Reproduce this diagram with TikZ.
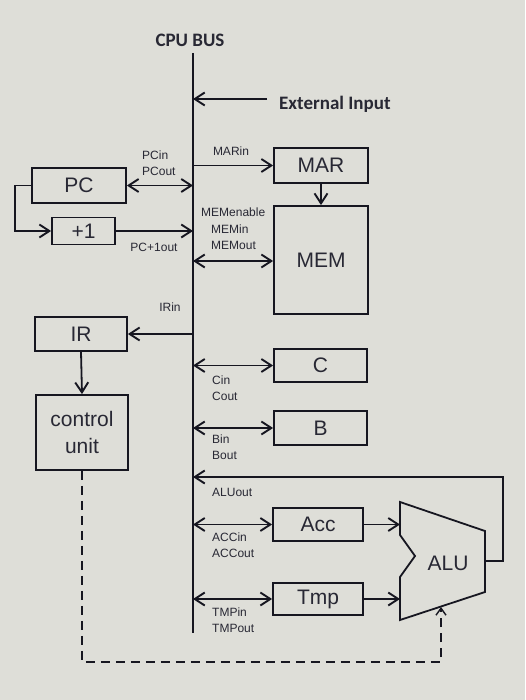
\documentclass[tikz,border=0pt]{standalone}
\usepackage{fontspec}
\setmainfont{Liberation Sans}
\newfontfamily\calib{Carlito}
\usetikzlibrary{arrows.meta}
\definecolor{bg}{RGB}{222,222,216}
\definecolor{ink}{RGB}{22,22,32}
\definecolor{txt}{RGB}{40,40,52}
\tikzset{
  tip/.tip={Straight Barb[length=10pt,width=13pt,line width=1.9pt]},
  box/.style={draw=ink,line width=1.8pt,fill=bg,inner sep=0pt,font=\fontsize{21}{23}\selectfont,text=txt},
  arr/.style={draw=ink,line width=1.8pt,-tip},
  darr/.style={draw=ink,line width=1.8pt,tip-tip},
  lbl/.style={font=\fontsize{12}{16}\selectfont,text=txt,inner sep=0pt,align=left},
  big/.style={font=\calib\bfseries\fontsize{19}{21}\selectfont,text=txt,inner sep=0pt}
}
\begin{document}
\begin{tikzpicture}[x=1pt,y=-1pt]
\fill[bg] (0,0) rectangle (525,700);
\useasboundingbox (0,0) rectangle (525,700);
% bus
\coordinate (bustop) at (193,53);
\coordinate (busbot) at (193,633);
\draw[ink,line width=2.6pt] (bustop) -- (busbot);
\node[big] (cpubus) at (190,40) {CPU BUS};
\coordinate (ext) at (267,99);
\draw[arr] (ext) -- (bustop |- ext);
\node[big,anchor=west] (extlbl) at (279,104) {External Input};
% boxes
\node[box,minimum width=94,minimum height=35] (MAR) at (321,165.5) {MAR};
\node[box,minimum width=94,minimum height=108] (MEM) at (321,260) {MEM};
\node[box,minimum width=94,minimum height=35] (PC) at (79,185.5) {PC};
\node[box,minimum width=63,minimum height=27] (inc) at (83.5,231) {+1};
\node[box,minimum width=92,minimum height=34] (IR) at (81,334) {IR};
\node[box,minimum width=92,minimum height=75,align=center,font=\fontsize{21}{27}\selectfont] (cu) at (82,432.5) {control\\unit};
\node[box,minimum width=93,minimum height=33] (C) at (320.5,365.5) {C};
\node[box,minimum width=93,minimum height=34] (B) at (320.5,428) {B};
\node[box,minimum width=90,minimum height=33] (Acc) at (318,524.5) {Acc};
\node[box,minimum width=90,minimum height=32] (Tmp) at (318,599) {Tmp};
% ALU
\coordinate (a1) at (400,502);
\coordinate (a2) at (485,531);
\coordinate (a3) at (485,592);
\coordinate (a4) at (400,620);
\coordinate (a5) at (400,577);
\coordinate (a6) at (415,556);
\coordinate (a7) at (400,535);
\draw[ink,line width=1.8pt,line join=miter] (a1) -- (a2) -- (a3) -- (a4) -- (a5) -- (a6) -- (a7) -- cycle;
\node[font=\fontsize{21}{23}\selectfont,text=txt] (alu) at (448,563) {ALU};
\coordinate (alur) at (485,561);
\coordinate (aluo) at (503,477);
\coordinate (alub) at (441,607);
% connections
\draw[arr] (bustop |- MAR) -- (MAR.west);
\node[lbl] (marin) at (231,151) {MARin};
\draw[arr] (MAR.south) -- (MEM.north);
\draw[darr] (PC.east) -- (bustop |- PC);
\node[lbl,anchor=west] (pcl) at (142,163.5) {PCin\\PCout};
\draw[arr] (PC.west) -- ++(-16,0) |- (inc.west);
\draw[arr] (inc.east) -- (bustop |- inc);
\node[lbl] (pc1) at (154,247) {PC+1out};
\coordinate (memy) at (193,261);
\draw[darr] (memy) -- (memy -| MEM.west);
\node[lbl,anchor=west] (meme) at (201,212) {MEMenable};
\node[lbl,anchor=west] (memio) at (211,237) {MEMin\\MEMout};
\draw[arr] (bustop |- IR) -- (IR.east);
\node[lbl] (irin) at (170,307) {IRin};
\draw[arr] (IR.south) -- (cu.north);
\draw[darr] (bustop |- C) -- (C.west);
\node[lbl,anchor=west] (cl) at (212,388) {Cin\\Cout};
\draw[darr] (bustop |- B) -- (B.west);
\node[lbl,anchor=west] (bl) at (212,447) {Bin\\Bout};
\draw[arr] (alur) -- (aluo |- alur) -- (aluo) -- (bustop |- aluo);
\node[lbl,anchor=west] (aluol) at (212,492) {ALUout};
\draw[darr] (bustop |- Acc) -- (Acc.west);
\node[lbl,anchor=west] (accl) at (212,545.5) {ACCin\\ACCout};
\draw[darr] (bustop |- Tmp) -- (Tmp.west);
\node[lbl,anchor=west] (tmpl) at (212,620) {TMPin\\TMPout};
\draw[arr] (Acc.east) -- (Acc.east -| a1);
\draw[arr] (Tmp.east) -- (Tmp.east -| a1);
\coordinate (dc) at (82,662);
\draw[draw=ink,line width=1.4pt,dash pattern=on 9pt off 6pt,-{Straight Barb[length=7pt,width=10pt,line width=1.4pt]}] (cu.south) -- (cu.south |- dc) -| (alub);
\end{tikzpicture}
\end{document}
